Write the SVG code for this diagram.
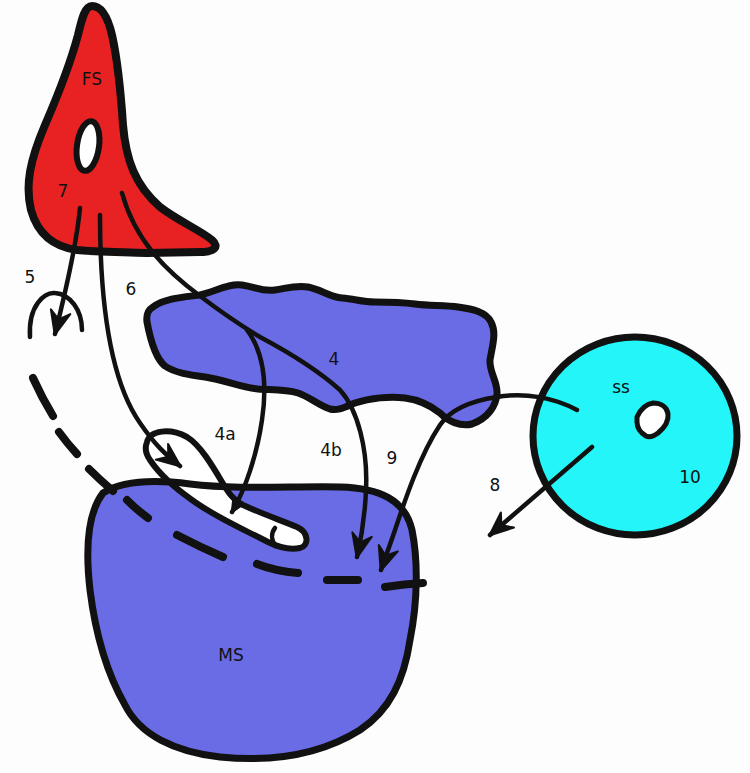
<svg xmlns="http://www.w3.org/2000/svg" width="750" height="773" viewBox="0 0 750 773">
<defs>
<style>
.out{stroke:#111;stroke-linejoin:round;stroke-linecap:round}
.ln{fill:none;stroke:#111;stroke-width:4.5;stroke-linecap:round;stroke-linejoin:round}
.dash{fill:none;stroke:#111;stroke-width:8;stroke-linecap:round}
.lbl{font-family:"DejaVu Sans",sans-serif;font-size:17px;fill:#111;text-anchor:middle}
</style>
<marker id="arr" viewBox="-26 -12 28 24" refX="0" refY="0" markerWidth="28" markerHeight="24" markerUnits="userSpaceOnUse" orient="auto">
<path d="M1,0 L-23,-10 L-15,0 L-23,10 Z" fill="#111" stroke="#111" stroke-width="2" stroke-linejoin="round"/>
</marker>
<marker id="arrs" viewBox="-12 -7 14 14" refX="0" refY="0" markerWidth="14" markerHeight="14" markerUnits="userSpaceOnUse" orient="auto">
<path d="M1,0 L-10,-5 L-7,0 L-10,5 Z" fill="#111" stroke="#111" stroke-width="1.5" stroke-linejoin="round"/>
</marker>
</defs>
<rect width="750" height="773" fill="#fdfdfd"/>

<g id="blob4">
<path class="out" fill="#6a6ce6" stroke-width="7" d="M153,307 C165,298 185,297 200,295 C215,292 228,283 242,285 C256,287 262,292 275,290 C288,288 296,285 308,287 C322,290 330,297 342,298 C355,299 362,302 375,302 C390,302 400,302 415,304 C430,306 445,305 458,307 C473,309 486,312 491,322 C497,333 492,347 490,360 C489,372 498,382 497,394 C496,406 488,418 472,424 C460,427 448,421 440,413 C430,405 420,400 405,398 C390,396 370,398 355,403 C345,407 338,411 330,409 C318,405 310,397 298,393 C285,389 270,390 258,389 C240,387 225,380 205,377 C190,375 175,373 165,366 C155,358 150,338 147,322 C146,314 148,310 153,307 Z"/>
</g>

<g id="FS">
<path class="out" fill="#e82222" stroke-width="8" d="M92,6 C102,6 108,18 112,35 C118,62 121,95 123,125 C126,160 135,185 160,207 C180,222 200,230 212,240 C220,247 214,252 200,252 L147,253 C120,252 95,252 77,250 C55,247 38,235 31,210 C25,185 30,160 45,125 C58,95 70,65 78,35 C82,18 85,6 92,6 Z"/>
<ellipse class="out" cx="88" cy="146" rx="11" ry="25" transform="rotate(8 88 146)" fill="#fff" stroke-width="6"/>
</g>

<g id="SS">
<ellipse class="out" cx="635" cy="436" rx="102" ry="99" fill="#24f5f8" stroke-width="7"/>
<path class="out" fill="#fff" stroke-width="5" d="M637,417 C641,408 647,404 653,403 C660,403 667,406 668,414 C669,422 664,428 658,433 C654,436 650,438 646,436 C641,433 637,428 637,422 Z"/>
</g>

<g id="MS">
<path fill="#6a6ce6" d="M103,493 C120,482 150,479 190,484 C240,490 290,486 340,487 C380,488 405,500 412,530 C418,560 418,600 410,640 C404,680 390,710 360,730 C320,755 270,762 220,757 C175,752 140,735 125,705 C105,670 95,630 90,590 C86,555 86,515 103,493 Z"/>
<path fill="#fff" d="M147,442 C150,430 170,428 187,437 C200,445 212,465 222,482 C228,492 233,500 243,505 C260,513 280,520 297,527 C308,532 310,545 300,548 C290,550 280,548 268,542 C245,530 215,517 192,500 C175,488 160,475 150,460 C145,453 145,447 147,442 Z"/>
<path class="out" fill="none" stroke-width="7" d="M103,493 C120,482 150,479 190,484 C240,490 290,486 340,487 C380,488 405,500 412,530 C418,560 418,600 410,640 C404,680 390,710 360,730 C320,755 270,762 220,757 C175,752 140,735 125,705 C105,670 95,630 90,590 C86,555 86,515 103,493 Z"/>
<path class="out" fill="none" stroke-width="6" d="M147,442 C150,430 170,428 187,437 C200,445 212,465 222,482 C228,492 233,500 243,505 C260,513 280,520 297,527 C308,532 310,545 300,548 C290,550 280,548 268,542 C245,530 215,517 192,500 C175,488 160,475 150,460 C145,453 145,447 147,442 Z"/>
<path class="ln" d="M275,528 C271,533 271,540 276,546"/>
</g>

<g id="connectors">
<path class="ln" d="M80,208 C77,240 68,282 55,334" marker-end="url(#arr)"/>
<path class="ln" stroke-width="4" d="M30,337 C28,305 45,292 55,293 C70,294 82,310 82,330"/>
<path class="ln" d="M100,215 C100,300 110,380 140,423 C155,445 166,455 180,466" marker-end="url(#arr)"/>
<path class="ln" d="M122,193 C135,240 165,270 200,296 C225,315 240,325 260,337 C290,353 320,372 340,390 C358,410 368,450 366,490 C365,515 362,535 357,557" marker-end="url(#arr)"/>
<path class="ln" d="M247,330 C262,350 268,380 262,420 C257,455 245,490 232,512" marker-end="url(#arrs)"/>
<path class="ln" d="M577,410 C555,398 525,392 497,397 C470,401 450,410 440,425 C420,455 405,500 395,530 C390,545 385,558 381,570" marker-end="url(#arr)"/>
<path class="ln" d="M592,447 L490,535" marker-end="url(#arr)"/>
<g id="dashed">
<path class="dash" d="M33,378 Q42,398 53,416"/>
<path class="dash" d="M59,432 Q67,443 77,454"/>
<path class="dash" d="M89,469 Q100,480 113,491"/>
<path class="dash" d="M127,500 Q137,510 148,518"/>
<path class="dash" d="M177,535 Q200,547 223,557"/>
<path class="dash" d="M257,564 Q275,571 298,573"/>
<path class="dash" d="M327,580 L358,580"/>
<path class="dash" d="M385,587 Q405,584 423,583"/>
</g>
</g>

<g id="labels">
<text class="lbl" x="92" y="85">FS</text>
<text class="lbl" x="63" y="197">7</text>
<text class="lbl" x="30" y="283">5</text>
<text class="lbl" x="131" y="295">6</text>
<text class="lbl" x="334" y="365">4</text>
<text class="lbl" x="225" y="440">4a</text>
<text class="lbl" x="331" y="456">4b</text>
<text class="lbl" x="392" y="464">9</text>
<text class="lbl" x="495" y="491">8</text>
<text class="lbl" x="621" y="393">ss</text>
<text class="lbl" x="690" y="483">10</text>
<text class="lbl" x="231" y="661">MS</text>
</g>
</svg>
